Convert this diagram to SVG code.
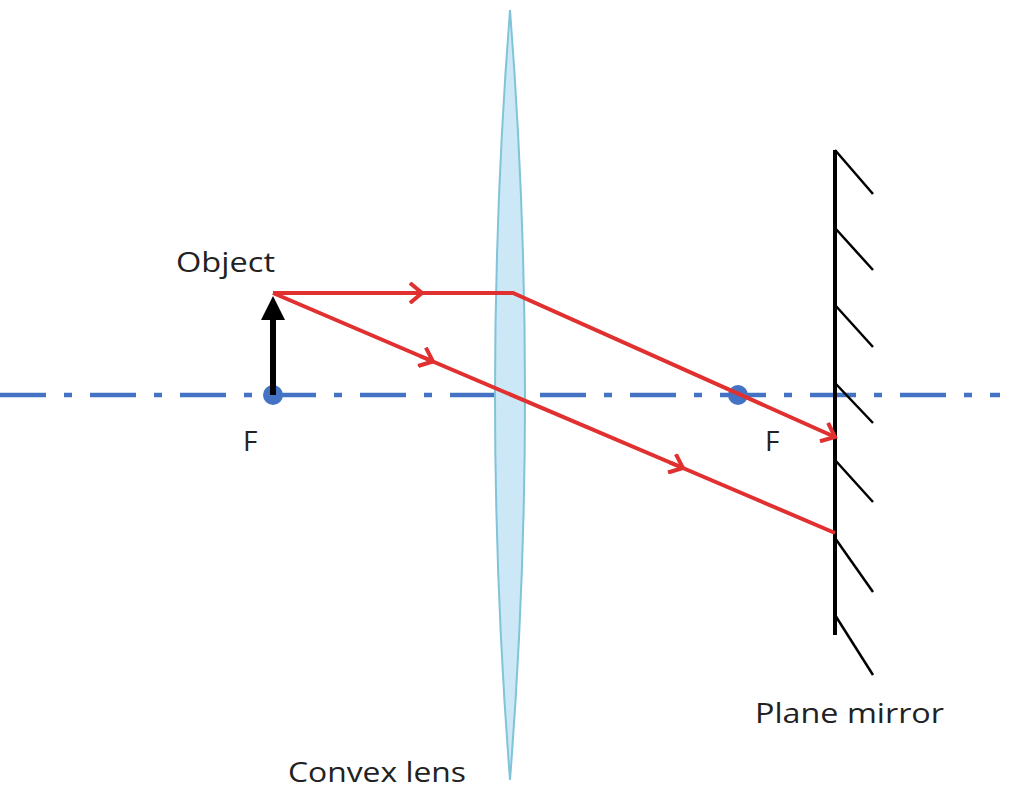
<svg xmlns="http://www.w3.org/2000/svg" width="1020" height="802" viewBox="0 0 1020 802">
<style>
.ray{stroke:#e03030;stroke-width:4;fill:none}
.hatch{stroke:#000;stroke-width:2.5}
text{font-family:"Open Sans","Liberation Sans",Arial,sans-serif;font-size:28px;fill:#222}
</style>
<defs>
<marker id="chev" markerWidth="20" markerHeight="22" refX="14" refY="11" orient="auto" markerUnits="userSpaceOnUse">
<path d="M2,1 L14,11 L2,21" stroke="#e03030" stroke-width="4" fill="none"/>
</marker>
<marker id="blk" markerWidth="26" markerHeight="24" refX="2" refY="12" orient="auto" markerUnits="userSpaceOnUse">
<path d="M0,0 L24,12 L0,24 Z" fill="#000"/>
</marker>
</defs>
<rect width="1020" height="802" fill="#fff"/>
<g id="axis"><line x1="0" y1="395" x2="1000" y2="395" stroke="#4472C4" stroke-width="4.5" stroke-dasharray="46,18,8,18"/></g>
<g id="lens"><path d="M510,10 Q540,395 510,780 Q480,395 510,10 Z" fill="#cce8f6" stroke="#7fc4d8" stroke-width="2"/><text x="288" y="782" textLength="178" lengthAdjust="spacingAndGlyphs">Convex lens</text></g>
<g id="focusL"><circle cx="273" cy="395" r="10" fill="#4472C4"/><text x="243" y="451">F</text></g>
<g id="focusR"><circle cx="738" cy="395" r="10" fill="#4472C4"/><text x="765" y="451">F</text></g>
<g id="mirror">
<line x1="835" y1="150" x2="835" y2="635" stroke="#000" stroke-width="4"/>
<line class="hatch" x1="835" y1="150" x2="873" y2="194"/>
<line class="hatch" x1="835" y1="228" x2="873" y2="270"/>
<line class="hatch" x1="835" y1="305" x2="873" y2="347"/>
<line class="hatch" x1="835" y1="383" x2="873" y2="423"/>
<line class="hatch" x1="835" y1="460" x2="873" y2="502"/>
<line class="hatch" x1="835" y1="538" x2="873" y2="592"/>
<line class="hatch" x1="835" y1="615" x2="873" y2="675"/>
<text x="755" y="723" textLength="189" lengthAdjust="spacingAndGlyphs">Plane mirror</text>
</g>
<g id="object"><line x1="273" y1="395" x2="273" y2="318" stroke="#000" stroke-width="6" marker-end="url(#blk)"/><text x="176" y="272" textLength="99" lengthAdjust="spacingAndGlyphs">Object</text></g>
<g id="connectors">
<path class="ray" d="M273,293 L422,293" marker-end="url(#chev)"/>
<path class="ray" d="M410,293 L513,293 L835,437" marker-end="url(#chev)"/>
<path class="ray" d="M273,293 L433,361.5" marker-end="url(#chev)"/>
<path class="ray" d="M420,356 L683,468" marker-end="url(#chev)"/>
<path class="ray" d="M670,462.5 L835,533"/>
</g>
</svg>
